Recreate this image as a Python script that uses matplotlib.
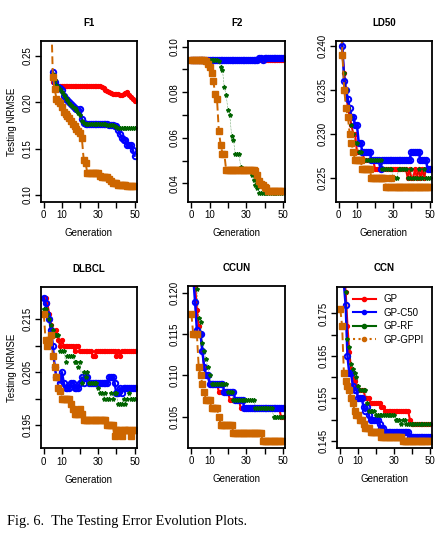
import numpy as np
import matplotlib.pyplot as plt
from matplotlib.lines import Line2D

plt.rcParams['font.family'] = ['Liberation Sans', 'DejaVu Sans']

nan = np.nan
gens = np.arange(0, 51)
series = ['GP', 'GP-C50', 'GP-RF', 'GP-GPPI']

# ---- F1 ----
f1_gp = [nan]*5 + [0.222, 0.221] + [0.2176]*25 + [0.2165, 0.215, 0.213, 0.212, 0.211, 0.210, 0.2095, 0.209,
         0.2088, 0.2085, 0.208, 0.208, 0.2085, 0.2105, 0.2115, 0.208, 0.206, 0.2035, 0.2018]
f1_c50 = [nan]*5 + [0.233, 0.222, 0.217, 0.2165, 0.216, 0.2135, 0.207, 0.204, 0.202, 0.2005, 0.198, 0.196,
          0.194, 0.1925, 0.192, 0.1925, 0.182, 0.178] + [0.177]*8 + [0.1765]*5 + [0.176]*3 + \
         [0.175, 0.174, 0.170, 0.166, 0.161, 0.159, 0.159, 0.1535, 0.1535, 0.1535, 0.149, 0.1425]
f1_rf = [nan]*5 + [0.2305, 0.224, 0.219, 0.217, 0.214, 0.211, 0.208, 0.205, 0.202, 0.199, 0.197, 0.1955,
         0.194, 0.192, 0.189, 0.186, 0.180, 0.1775] + [0.1765]*12 + [0.176]*4 + [0.1745, 0.173] + [0.1725]*10
f1_gppi = [nan]*4 + [0.30, 0.2275, 0.2145, 0.2036, 0.2015, 0.199, 0.1955, 0.190, 0.187, 0.185, 0.183, 0.180,
           0.177, 0.174, 0.171, 0.169, 0.167, 0.161, 0.138, 0.135] + [0.1235]*7 + [0.121] + [0.1195]*4 + \
          [0.117, 0.115] + [0.113]*3 + [0.111]*5 + [0.110]*5

# ---- F2 ----
f2_gp = [0.0940]*51
f2_c50 = [0.0941]*37 + [0.0949, 0.0949, 0.0941] + [0.0949]*11
f2_rf = [0.0941]*15 + [0.0935, 0.0912, 0.0897, 0.0821, 0.0788, 0.0722, 0.070, 0.0608, 0.059, 0.0529,
         0.0529, 0.0529, 0.047] + [0.0458]*5 + [0.0437, 0.0414, 0.0393, 0.0378] + [0.0359]*14
f2_gppi = [0.094]*8 + [0.0935, 0.0925, 0.091, 0.0885, 0.085, 0.079, 0.077, 0.063, 0.057, 0.053, 0.053] + \
          [0.0458]*16 + [0.0455, 0.0437, 0.041, 0.0395, 0.0393, 0.0382, 0.038] + [0.0368]*9

# ---- LD50 ----
ld_gp = [0.245]*2 + [0.239, 0.237, 0.235, 0.233, 0.232, 0.231, 0.230, 0.230] + [0.228]*4 + [0.227]*6 + \
        [0.226]*18 + [0.225, 0.226, 0.225, 0.225, 0.226, 0.225, 0.226, 0.225, 0.226, 0.225, 0.226, 0.226, 0.226]
ld_c50 = [0.245]*2 + [0.240, 0.236, 0.235, 0.234, 0.233, 0.232, 0.232, 0.231, 0.231, 0.229, 0.229] + \
         [0.228]*5 + [0.227]*5 + [0.226] + [0.227]*16 + [0.228]*5 + [0.227]*4 + [0.226]*2
ld_rf = [0.245]*2 + [0.239, 0.237, 0.235, 0.233, 0.232, 0.231, 0.230, 0.229, 0.229, 0.228, 0.228] + \
        [0.227]*11 + [0.226]*6 + [0.225]*3 + [0.226]*5 + \
        [0.225, 0.225, 0.226, 0.225, 0.225, 0.225, 0.226, 0.225, 0.225, 0.226, 0.225, 0.225, 0.225]
ld_gppi = [0.245]*2 + [0.239, 0.235, 0.233, 0.232, 0.230, 0.229, 0.228] + [0.227]*4 + [0.226]*5 + \
          [0.225]*8 + [0.224]*3 + [0.225] + [0.224]*21

# ---- DLBCL ----
dl_gp = [0.219, 0.219, 0.218, 0.216, 0.214, 0.212, 0.212, 0.213, 0.211, 0.210, 0.211] + [0.210]*6 + \
        [0.209, 0.210, 0.210] + [0.209]*7 + [0.208, 0.208] + [0.209]*11 + [0.208, 0.209, 0.208] + [0.209]*8
dl_c50 = [0.219, 0.218, 0.216, 0.215, 0.213, 0.210, 0.206, 0.204, 0.204, 0.203, 0.205, 0.203] + \
         [0.202]*3 + [0.203]*2 + [0.202]*3 + [0.203, 0.204, 0.203, 0.204, 0.204] + [0.203]*11 + \
         [0.204]*3 + [0.203, 0.201, 0.201, 0.202, 0.201] + [0.202]*7
dl_rf = [0.217, 0.217, 0.216, 0.215, 0.214, 0.213, 0.212, 0.212, 0.212, 0.209, 0.209, 0.209, 0.207] + \
        [0.208]*4 + [0.207, 0.207, 0.206, 0.207, 0.203, 0.205, 0.204, 0.205] + [0.203]*5 + \
        [0.202, 0.201, 0.201, 0.200, 0.201, 0.200, 0.200, 0.201, 0.200, 0.201, 0.201, 0.199, 0.199,
         0.199, 0.200, 0.199, 0.200, 0.201, 0.200, 0.200, 0.200]
dl_gppi = [0.216, 0.211, 0.210, 0.211, 0.212, 0.208, 0.206, 0.204, 0.202, 0.2015] + [0.200]*5 + \
          [0.199, 0.198, 0.197, 0.197, 0.197, 0.198, 0.197] + [0.196]*13 + [0.195]*4 + [0.193] + \
          [0.194]*3 + [0.193] + [0.194]*4 + [0.193, 0.194, 0.194]

# ---- CCUN ----
cu_gp = [0.130, 0.125, 0.121, 0.118, 0.116, 0.115, 0.113, 0.111, 0.110, 0.110] + [0.109]*5 + \
        [0.108]*6 + [0.107]*6 + [0.106]*22 + [0.105]*2
cu_c50 = [0.125, 0.122, 0.119, 0.1155, 0.115, 0.115, 0.113, 0.111, 0.110, 0.110] + [0.109]*8 + \
         [0.108]*6 + [0.107]*5 + [0.106]*22
cu_rf = [0.130, 0.126, 0.122, 0.1205, 0.117, 0.1165, 0.114, 0.113, 0.112, 0.111, 0.110] + [0.109]*9 + \
        [0.108]*3 + [0.107]*12 + [0.106]*10 + [0.105]*6
cu_gppi = [0.1175, 0.115, 0.115, 0.115, 0.111, 0.110, 0.109, 0.108] + [0.107]*3 + [0.106]*4 + [0.105] + \
          [0.104]*7 + [0.103]*16 + [0.102]*12

# ---- CCN ----
cn_gp = [0.19, 0.19, 0.185, 0.180, 0.172, 0.166, 0.162, 0.161, 0.159, 0.158] + [0.157]*4 + [0.155]*3 + \
        [0.154]*6 + [0.153]*2 + [0.152]*14 + [0.150] + [0.149]*11
cn_c50 = [0.19, 0.185, 0.182, 0.177, 0.165, 0.161, 0.161, 0.158, 0.157, 0.157] + [0.155]*3 + \
         [0.153, 0.152, 0.153, 0.151] + [0.150]*5 + [0.149] + [0.148]*2 + [0.147]*14 + [0.146]*12
cn_rf = [0.19, 0.187, 0.183, 0.180, 0.169, 0.167, 0.163, 0.162, 0.161, 0.160, 0.158] + [0.157]*4 + \
        [0.154] + [0.152]*4 + [0.151]*11 + [0.150]*3 + [0.149] + [0.150]*2 + [0.149]*14
cn_gppi = [0.176, 0.172, 0.161, 0.159, 0.158, 0.157, 0.155, 0.154, 0.152, 0.151, 0.151, 0.150, 0.150,
           0.149] + [0.148]*3 + [0.147]*6 + [0.146]*12 + [0.145]*16

panels = [
    ('F1', [f1_gp, f1_c50, f1_rf, f1_gppi], (0.0928, 0.2662), np.arange(0.10, 0.26, 0.05), [0.10, 0.15, 0.20, 0.25], '%.2f'),
    ('F2', [f2_gp, f2_c50, f2_rf, f2_gppi], (0.0319, 0.1025), np.arange(0.04, 0.101, 0.01), [0.04, 0.06, 0.08, 0.10], '%.2f'),
    ('LD50', [ld_gp, ld_c50, ld_rf, ld_gppi], (0.2223, 0.2406), np.arange(0.225, 0.2401, 0.005), [0.225, 0.230, 0.235, 0.240], '%.3f'),
    ('DLBCL', [dl_gp, dl_c50, dl_rf, dl_gppi], (0.1906, 0.2211), np.arange(0.195, 0.2151, 0.005), [0.195, 0.205, 0.215], '%.3f'),
    ('CCUN', [cu_gp, cu_c50, cu_rf, cu_gppi], (0.1012, 0.1209), np.arange(0.105, 0.1201, 0.005), [0.105, 0.110, 0.115, 0.120], '%.3f'),
    ('CCN', [cn_gp, cn_c50, cn_rf, cn_gppi], (0.1434, 0.1813), np.arange(0.145, 0.1751, 0.005), [0.145, 0.155, 0.165, 0.175], '%.3f'),
]

W, H = 445, 541
boxes = [(40.7, 41, 136.7, 201.7), (188.3, 41, 285, 201.7), (335.7, 41, 431.7, 201.7),
         (40.7, 287, 136.7, 448.3), (188.3, 286, 285, 447.7), (337.3, 286.7, 431.7, 447.7)]

styles = [
    dict(color='#ff0000', lw=1.5, marker='o', ms=2.8, mec='#ff0000', mfc='#ff0000', ls='-'),
    dict(color='#0000ff', lw=1.8, marker='o', ms=3.9, mec='#0000ff', mfc='none', mew=1.4, ls='-'),
    dict(color='#006400', lw=0.4, marker='*', ms=3.0, mec='#006400', mfc='#006400', ls=':'),
    dict(color='#cd6600', lw=1.4, marker='s', ms=3.8, mec='#cd6600', mfc='#cd6600', ls=(0, (4, 2))),
]

fig = plt.figure(figsize=(W / 100, H / 100), dpi=100)

for i, (name, data, ylim, yticks, ylabels, fmt) in enumerate(panels):
    x0, y0, x1, y1 = boxes[i]
    ax = fig.add_axes([x0 / W, 1 - y1 / H, (x1 - x0) / W, (y1 - y0) / H])
    for vals, st in zip(data, styles):
        ax.plot(gens, vals, **st)
    ax.set_xlim(-1.7, 51.2)
    ax.set_ylim(*ylim)
    ax.set_xticks([0, 10, 20, 30, 40, 50])
    ax.set_xticklabels(['0', '10', '', '30', '', '50'])
    ax.set_yticks(yticks)
    ax.set_yticklabels([(fmt % t) if any(abs(t - l) < 1e-9 for l in ylabels) else '' for t in yticks])
    ax.tick_params(axis='both', direction='out', length=4, width=1, labelsize=7, pad=2)
    ax.tick_params(axis='y', labelrotation=90)
    for lab in ax.get_yticklabels():
        lab.set_va('center')
    for sp in ax.spines.values():
        sp.set_linewidth(1.3)
    ax.set_title(name, fontsize=7, fontweight='bold', pad=11)
    ax.set_xlabel('Generation', fontsize=7, labelpad=6)
    if i in (0, 3):
        ax.set_ylabel('Testing NRMSE', fontsize=7, labelpad=4)
    if name == 'CCN':
        handles = [Line2D([], [], color=st['color'], lw=1.5, ls=('-' if k < 3 else ':'),
                          marker='o', ms=3, mfc=st['color'], mec=st['color']) for k, st in enumerate(styles)]
        ax.legend(handles, series, loc='upper right', frameon=False, fontsize=7,
                  handlelength=2.4, handletextpad=0.8, labelspacing=0.35, borderaxespad=0.4)

fig.text(7 / W, 1 - 521 / H, 'Fig. 6.  The Testing Error Evolution Plots.', fontsize=10.3,
         family=['Liberation Serif', 'DejaVu Serif'], va='center', ha='left')

fig.savefig('out.png', dpi=100)
